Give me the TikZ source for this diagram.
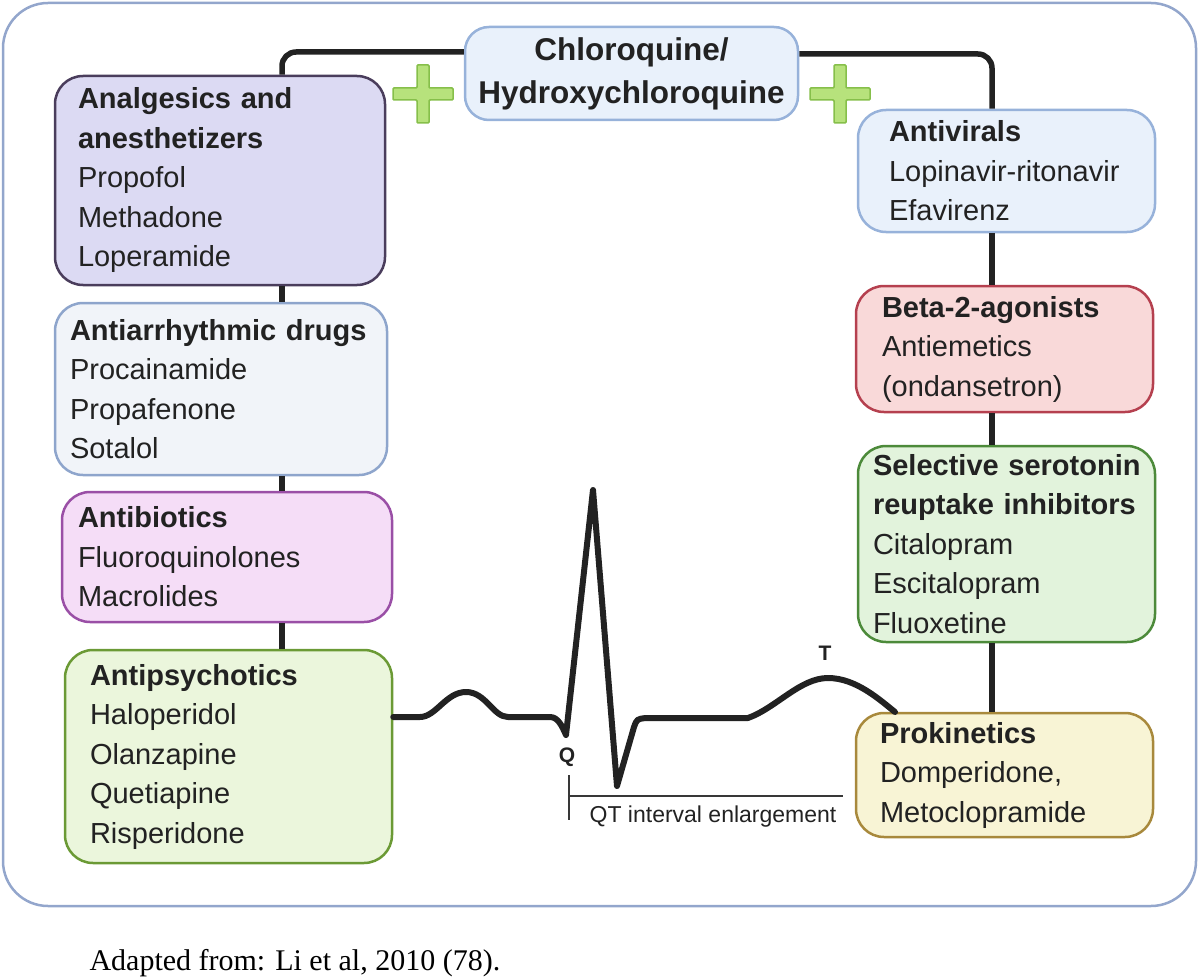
\documentclass[tikz,border=0pt]{standalone}
\usepackage{fontspec}
\setmainfont{Liberation Sans}
\newfontfamily\capfont{Liberation Serif}
\usetikzlibrary{positioning, calc}
\usepackage{xcolor}
\definecolor{inkdark}{HTML}{222222}
\definecolor{framecol}{HTML}{93A6CC}
\definecolor{analfill}{HTML}{DCDAF3}
\definecolor{analdraw}{HTML}{4A3D5C}
\definecolor{arrfill}{HTML}{F1F4F9}
\definecolor{arrdraw}{HTML}{8EA5CC}
\definecolor{abiofill}{HTML}{F5DDF7}
\definecolor{abiodraw}{HTML}{9A4FA6}
\definecolor{apsyfill}{HTML}{EBF6DC}
\definecolor{apsydraw}{HTML}{6B9A35}
\definecolor{avirfill}{HTML}{E9F1FB}
\definecolor{avirdraw}{HTML}{97B2DA}
\definecolor{betafill}{HTML}{F9D9D9}
\definecolor{betadraw}{HTML}{B5404F}
\definecolor{ssrifill}{HTML}{E2F3DC}
\definecolor{ssridraw}{HTML}{4C8A3A}
\definecolor{prokfill}{HTML}{F8F4D5}
\definecolor{prokdraw}{HTML}{A8893C}
\definecolor{plusfill}{HTML}{B7E27C}
\definecolor{plusdraw}{HTML}{86BF4A}

\tikzset{
  drugbox/.style={rounded corners=28pt, line width=2.5pt, inner ysep=0pt,
                  align=left, text=inkdark, font=\fontsize{29}{39.5}\selectfont},
  trunk/.style={draw=inkdark, line width=5.5pt},
  ecg/.style={draw=inkdark, line width=6pt, line join=round, line cap=round},
  qtline/.style={draw=inkdark!90, line width=1.6pt},
  plusmark/.style={fill=plusfill, draw=plusdraw, line width=1.5pt, rounded corners=1pt}
}

\begin{document}
\begin{tikzpicture}[x=1pt, y=-1pt]
    \useasboundingbox (0,0) rectangle (1200,979);
    \draw[framecol, line width=2.5pt, rounded corners=45pt] (3,3) rectangle (1196,906);

    % centre drug
    \node[drugbox, align=center, draw=avirdraw, fill=avirfill, rounded corners=24pt,
          font=\bfseries\fontsize{31.5}{43}\selectfont,
          minimum width=333pt, minimum height=93pt] (chq) at (631.5,73.5)
          {Chloroquine/\\Hydroxychloroquine};

    % left column
    \node[drugbox, draw=analdraw, fill=analfill, text width=284pt, inner xsep=23pt,
          minimum height=209pt] (anal) at (220,180.5)
          {\textbf{Analgesics and}\\\textbf{anesthetizers}\\Propofol\\Methadone\\Loperamide};
    \node[drugbox, draw=arrdraw, fill=arrfill, text width=302pt, inner xsep=15pt,
          minimum height=172pt] (arr) at (221,389)
          {\textbf{Antiarrhythmic drugs}\\Procainamide\\Propafenone\\Sotalol};
    \node[drugbox, draw=abiodraw, fill=abiofill, text width=298pt, inner xsep=16pt,
          minimum height=130pt] (abio) at (227,557)
          {\textbf{Antibiotics}\\Fluoroquinolones\\Macrolides};
    \node[drugbox, draw=apsydraw, fill=apsyfill, text width=277pt, inner xsep=25pt,
          minimum height=213pt] (apsy) at (228.5,756.5)
          {\textbf{Antipsychotics}\\Haloperidol\\Olanzapine\\Quetiapine\\Risperidone};

    % right column
    \node[drugbox, draw=avirdraw, fill=avirfill, text width=235pt, inner xsep=31pt,
          minimum height=122pt] (avir) at (1006.5,171)
          {\textbf{Antivirals}\\Lopinavir-ritonavir\\Efavirenz};
    \node[drugbox, draw=betadraw, fill=betafill, text width=245pt, inner xsep=26pt,
          minimum height=126pt] (beta) at (1004.5,349)
          {\textbf{Beta-2-agonists}\\Antiemetics\\(ondansetron)};
    \node[drugbox, draw=ssridraw, fill=ssrifill, text width=267pt, inner xsep=15pt,
          minimum height=196pt] (ssri) at (1006.5,544)
          {\textbf{\mbox{Selective serotonin}}\\\textbf{\mbox{reuptake inhibitors}}\\Citalopram\\Escitalopram\\Fluoxetine};
    \node[drugbox, draw=prokdraw, fill=prokfill, text width=249pt, inner xsep=24pt,
          minimum height=124pt] (prok) at (1004.5,775)
          {\textbf{Prokinetics}\\Domperidone,\\Metoclopramide};

    % connectors
    \coordinate (ltop) at (282,52);
    \coordinate (rtop) at (992,54);
    \draw[trunk, rounded corners=14pt] (anal.north -| ltop) -- (ltop) -- (chq.west |- ltop);
    \draw[trunk, rounded corners=14pt] (chq.east |- rtop) -- (rtop) -- (avir.north -| rtop);
    \draw[trunk] (anal.south -| ltop) -- (arr.north -| ltop);
    \draw[trunk] (arr.south -| ltop) -- (abio.north -| ltop);
    \draw[trunk] (abio.south -| ltop) -- (apsy.north -| ltop);
    \draw[trunk] (avir.south -| rtop) -- (beta.north -| rtop);
    \draw[trunk] (beta.south -| rtop) -- (ssri.north -| rtop);
    \draw[trunk] (ssri.south -| rtop) -- (prok.north -| rtop);

    \foreach \cx in {423,840}
      \draw[plusmark] (\cx-6,65) -- (\cx+6,65) -- (\cx+6,88) -- (\cx+30,88)
        -- (\cx+30,100) -- (\cx+6,100) -- (\cx+6,123) -- (\cx-6,123)
        -- (\cx-6,100) -- (\cx-30,100) -- (\cx-30,88) -- (\cx-6,88) -- cycle;

    % ECG trace
    \coordinate (ecgend) at (895,712);
    \draw[ecg] (apsy.east |- 0,717) -- (420,717)
      .. controls (436,717) and (446,692) .. (466,692)
      .. controls (486,692) and (493,717) .. (508,717) -- (550,717)
      .. controls (558,717) and (562,726) .. (566,735)
      -- (593,490) -- (617,786) -- (634,727)
      .. controls (637,719) .. (646,718) -- (748,718)
      .. controls (776,708) and (800,678) .. (828,678)
      .. controls (856,678) and (880,700) .. (ecgend);
    \node[text=inkdark, font=\bfseries\fontsize{21}{21}\selectfont] (qlab) at (567,757) {Q};
    \node[text=inkdark, font=\bfseries\fontsize{21}{21}\selectfont] (tlab) at (825,653) {T};
    \coordinate (qtl) at (569,796);
    \coordinate (qtr) at (843,796);
    \draw[qtline] ($(qtl)+(0,-21)$) -- ($(qtl)+(0,24)$);
    \draw[qtline] (qtl) -- (qtr);
    \node[text=inkdark, font=\fontsize{23}{23}\selectfont] (qtlab) at (713,817) {QT interval enlargement};

    \node[anchor=base west, font=\capfont\fontsize{30}{30}\selectfont] (src) at (86,970)
      {Adapted from: Li et al, 2010 (78).};
  \end{tikzpicture}
\end{document}
